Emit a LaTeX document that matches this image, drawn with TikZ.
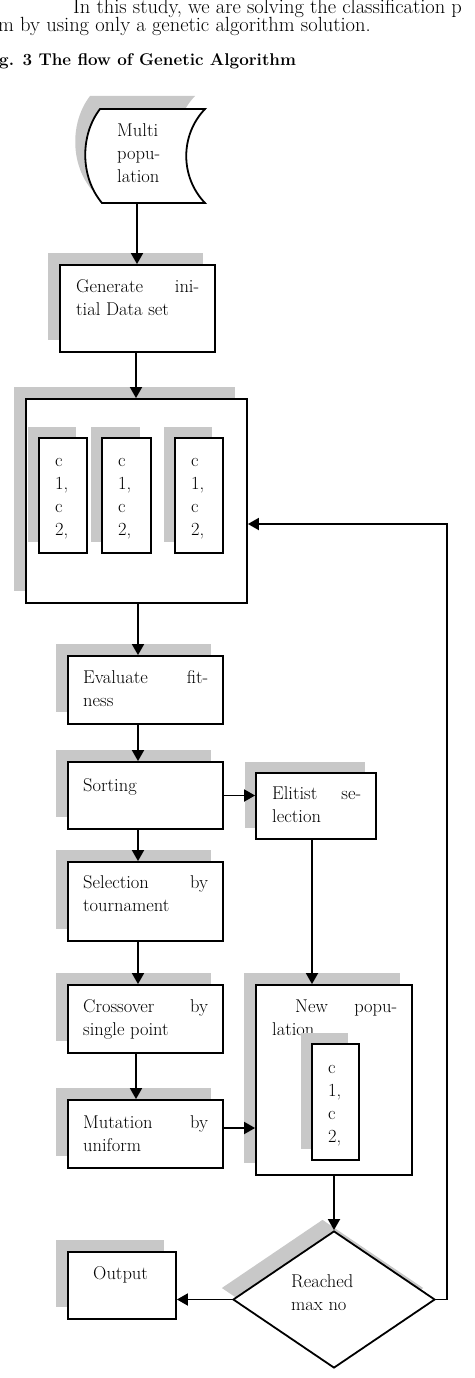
\documentclass[tikz,border=0pt]{standalone}
\usetikzlibrary{shapes.geometric,arrows.meta,shadows}
\definecolor{shadowgray}{RGB}{200,200,200}
\begin{document}
\begin{tikzpicture}[x=1pt,y=-1pt,
  shadowed/.style={general shadow={fill=shadowgray, shadow xshift=-#1, shadow yshift=#1}},
  box/.style={draw, line width=1.8pt, fill=white, inner sep=0pt, rectangle},
  txt/.style={inner sep=0pt, anchor=base west, align=left, font=\fontsize{18.5}{23}\selectfont},
  head/.style={inner sep=0pt, anchor=base west, font=\fontsize{20.5}{21}\selectfont},
  con/.style={line width=1.8pt},
  arr/.style={line width=1.8pt, -{Triangle[length=11pt,width=12pt]}}]
\useasboundingbox (0,0) rectangle (474,1378);
\clip (0,0) rectangle (474,1378);
\fill[white] (0,0) rectangle (474,1378);

% header text
\node[head] (h1) at (73,14) {In this study, we are solving the classification p};
\node[head] (h2) at (-2,32) {m by using only a genetic algorithm solution.};
\node[head, font=\fontsize{17}{21}\selectfont\bfseries] (h3) at (-1,66) {g. 3 The flow of Genetic Algorithm};

% multi population (stored data shape)
\begin{scope}[shift={(-10,-13)}]
  \fill[shadowgray] (100,109) -- (205,109) .. controls (180,135) and (180,177) .. (205,203)
    -- (102,203) .. controls (80,177) and (80,135) .. cycle;
\end{scope}
\draw[con, fill=white] (100,109) -- (205,109) .. controls (180,135) and (180,177) .. (205,203)
    -- (102,203) .. controls (80,177) and (80,135) .. cycle;
\coordinate (multiout) at (137,203);
\node[txt] (multitxt) at (117,182) {Multi\\popu-\\lation};

% boxes
\node[box, shadowed=12pt, minimum width=155pt, minimum height=87pt] (gen) at (137.5,308.5) {};
\node[txt] at (76,315) {\makebox[123pt][s]{Generate ini-}\\tial Data set};

\node[box, shadowed=12pt, minimum width=221pt, minimum height=204pt] (big) at (136.5,501) {};
\node[box, shadowed=11pt, minimum width=48pt, minimum height=115pt] (c1) at (63,495.5) {};
\node[box, shadowed=11pt, minimum width=49pt, minimum height=115pt] (c2) at (126.5,495.5) {};
\node[box, shadowed=11pt, minimum width=48pt, minimum height=115pt] (c3) at (199,495.5) {};
\node[txt] at (55,535) {c\\1,\\c\\2,};
\node[txt] at (118,535) {c\\1,\\c\\2,};
\node[txt] at (191,535) {c\\1,\\c\\2,};

\node[box, shadowed=12pt, minimum width=155pt, minimum height=68pt] (eval) at (145.5,690) {};
\node[txt] at (83,706) {\makebox[125pt][s]{Evaluate fit-}\\ness};

\node[box, shadowed=12pt, minimum width=155pt, minimum height=67pt] (sort) at (145.5,795.5) {};
\node[txt] at (83,791) {Sorting};

\node[box, shadowed=12pt, minimum width=155pt, minimum height=79pt] (sel) at (145.5,901.5) {};
\node[txt] at (83,911) {\makebox[125pt][s]{Selection by}\\tournament};

\node[box, shadowed=12pt, minimum width=155pt, minimum height=68pt] (cross) at (145.5,1019) {};
\node[txt] at (83,1035) {\makebox[125pt][s]{Crossover by}\\single point};

\node[box, shadowed=12pt, minimum width=155pt, minimum height=68pt] (mut) at (145.5,1134) {};
\node[txt] at (83,1151) {\makebox[125pt][s]{Mutation by}\\uniform};

\node[box, shadowed=11pt, minimum width=120pt, minimum height=66pt] (elit) at (316,806) {};
\node[txt] at (272,822) {\makebox[89pt][s]{Elitist se-}\\lection};

\node[box, shadowed=12pt, minimum width=156pt, minimum height=190pt] (newp) at (334,1080) {};
\node[txt] at (272,1035) {\hspace*{23pt}\makebox[102pt][s]{New popu-}\\lation};
\node[box, shadowed=11pt, minimum width=47pt, minimum height=116pt] (cn) at (335.5,1102) {};
\node[txt] at (328,1142) {c\\1,\\c\\2,};

\node[draw, diamond, line width=1.8pt, fill=white, inner sep=0pt, minimum width=202pt, minimum height=137pt, shadowed=11.5pt] (dia) at (334,1299.5) {};
\node[txt] at (291,1310) {Reached\\max no};

\node[box, shadowed=12pt, minimum width=108pt, minimum height=67pt] (out) at (122,1285.5) {};
\node[txt] at (93,1279) {Output};

% connectors
\draw[arr] (multiout) -- (multiout |- gen.north);
\coordinate (col0) at (136,0);
\draw[arr] (gen.south -| col0) -- (big.north -| col0);
\coordinate (col) at (138,0);
\draw[arr] (big.south -| col) -- (eval.north -| col);
\draw[arr] (eval.south -| col) -- (sort.north -| col);
\draw[arr] (sort.south -| col) -- (sel.north -| col);
\draw[arr] (sel.south -| col) -- (cross.north -| col);
\coordinate (col2) at (136,0);
\draw[arr] (cross.south -| col2) -- (mut.north -| col2);
\draw[arr] (sort.east) -- (sort.east -| elit.west);
\coordinate (col3) at (312,0);
\draw[arr] (elit.south -| col3) -- (newp.north -| col3);
\coordinate (mutrow) at (0,1128);
\draw[arr] (mut.east |- mutrow) -- (newp.west |- mutrow);
\draw[arr] (newp.south) -- (dia.north);
\draw[arr] (dia.west) -- (dia.west -| out.east);
\coordinate (ret) at (447,524);
\draw[arr] (dia.east) -| (ret) -- (ret -| big.east);
\end{tikzpicture}
\end{document}
